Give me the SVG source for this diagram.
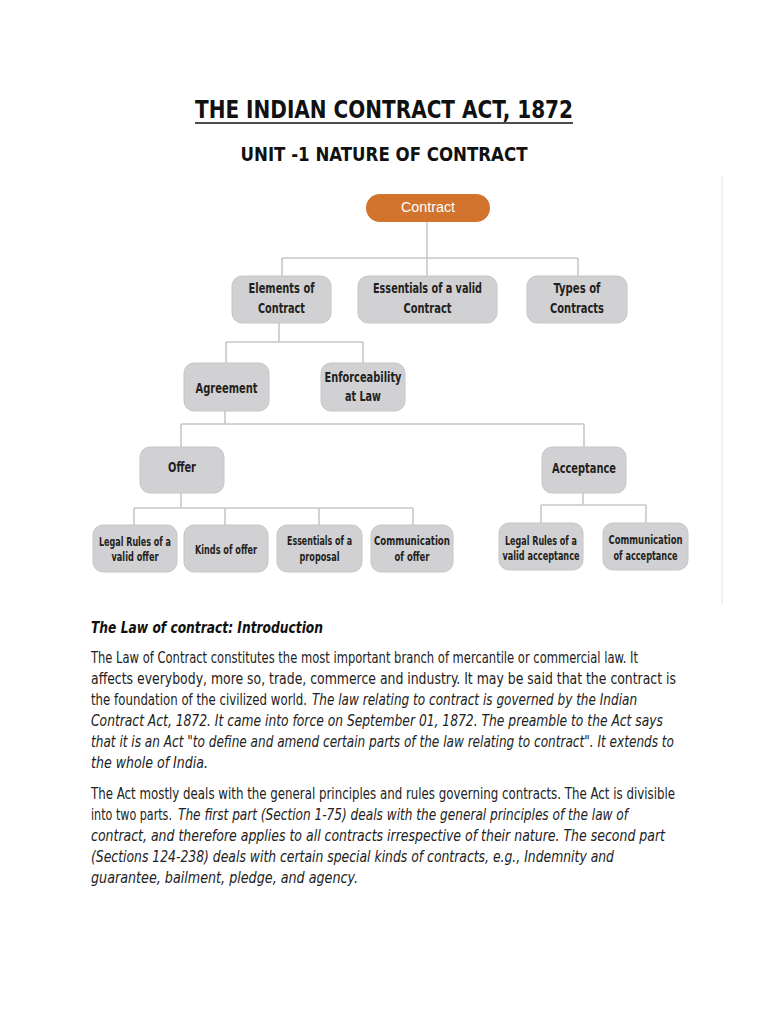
<svg xmlns="http://www.w3.org/2000/svg" width="768" height="1024" viewBox="0 0 768 1024">
<style>
.t{font-family:"Liberation Sans Narrow","DejaVu Sans Condensed","Liberation Sans",sans-serif;fill:#111;}
.b{font-weight:bold;}
.p{font-size:15px;fill:#222;}
.i{font-style:italic;}
.n rect{fill:#d1d1d3;stroke:#c6c6c8;stroke-width:1;}
.n text{font-family:"Liberation Sans Narrow","DejaVu Sans Condensed","Liberation Sans",sans-serif;font-weight:bold;font-size:13.5px;fill:#231f20;text-anchor:middle;}
.n text.s{font-size:12px;}
.c{stroke:#c8c8c8;stroke-width:1.6;fill:none;}
</style>
<rect width="768" height="1024" fill="#fff"/>
<text class="t b" x="384" y="118" font-size="24" text-anchor="middle" textLength="378" lengthAdjust="spacingAndGlyphs">THE  INDIAN  CONTRACT ACT, 1872</text>
<line x1="195" y1="123" x2="573" y2="123" stroke="#111" stroke-width="1.6"/>
<text class="t b" x="384" y="161" font-size="20" text-anchor="middle" textLength="287" lengthAdjust="spacingAndGlyphs">UNIT -1 NATURE OF CONTRACT</text>
<line x1="722" y1="176" x2="722" y2="605" stroke="#e8e8e8" stroke-width="1.2"/>
<g id="connectors" class="c">
<path d="M427 222V258M282 258H578M282 258V276M427 258V276M578 258V276"/>
<path d="M279 323V342M226 342H363M226 342V363M363 342V363"/>
<path d="M225 411V424M181 424H584M181 424V447M584 424V447"/>
<path d="M181 493V508M134 508H413M134 508V525M225 508V525M319 508V525M413 508V525"/>
<path d="M583 493V505M541 505H646M541 505V523M646 505V523"/>
</g>
<g id="contract"><rect x="366" y="194" width="124" height="28" rx="14" fill="#d2742e"/><text x="428" y="211.5" font-family="'Liberation Sans','DejaVu Sans',sans-serif" font-size="14" fill="#fff" text-anchor="middle" textLength="54" lengthAdjust="spacingAndGlyphs">Contract</text></g>
<g id="elements" class="n"><rect x="232" y="276" width="99" height="47" rx="10"/><text x="281.5" y="293" textLength="66" lengthAdjust="spacingAndGlyphs">Elements of</text><text x="281.5" y="313" textLength="47" lengthAdjust="spacingAndGlyphs">Contract</text></g>
<g id="essentials" class="n"><rect x="358" y="276" width="139" height="47" rx="10"/><text x="427.5" y="293" textLength="109" lengthAdjust="spacingAndGlyphs">Essentials of a valid</text><text x="427.5" y="313" textLength="48" lengthAdjust="spacingAndGlyphs">Contract</text></g>
<g id="types" class="n"><rect x="527" y="276" width="100" height="47" rx="10"/><text x="577" y="293" textLength="47" lengthAdjust="spacingAndGlyphs">Types of</text><text x="577" y="313" textLength="54" lengthAdjust="spacingAndGlyphs">Contracts</text></g>
<g id="agreement" class="n"><rect x="184" y="363" width="85" height="48" rx="10"/><text x="226.5" y="392.5" textLength="62" lengthAdjust="spacingAndGlyphs">Agreement</text></g>
<g id="enforceability" class="n"><rect x="321" y="363" width="84" height="48" rx="10"/><text x="363" y="381.5" textLength="77" lengthAdjust="spacingAndGlyphs">Enforceability</text><text x="363" y="400.5" textLength="36" lengthAdjust="spacingAndGlyphs">at Law</text></g>
<g id="offer" class="n"><rect x="140" y="447" width="84" height="46" rx="10"/><text x="182" y="471.5" textLength="28" lengthAdjust="spacingAndGlyphs">Offer</text></g>
<g id="acceptance" class="n"><rect x="542" y="447" width="84" height="46" rx="10"/><text x="584" y="472.5" textLength="64" lengthAdjust="spacingAndGlyphs">Acceptance</text></g>
<g id="legal-offer" class="n"><rect x="93" y="525" width="84" height="47" rx="10"/><text class="s" x="135" y="546" textLength="72" lengthAdjust="spacingAndGlyphs">Legal Rules of a</text><text class="s" x="135" y="561" textLength="47" lengthAdjust="spacingAndGlyphs">valid offer</text></g>
<g id="kinds-offer" class="n"><rect x="184" y="525" width="84" height="47" rx="10"/><text class="s" x="226" y="554" textLength="62" lengthAdjust="spacingAndGlyphs">Kinds of offer</text></g>
<g id="essentials-proposal" class="n"><rect x="277" y="525" width="85" height="47" rx="10"/><text class="s" x="319.5" y="545" textLength="65" lengthAdjust="spacingAndGlyphs">Essentials of a</text><text class="s" x="319.5" y="561" textLength="40" lengthAdjust="spacingAndGlyphs">proposal</text></g>
<g id="comm-offer" class="n"><rect x="371" y="525" width="82" height="47" rx="10"/><text class="s" x="412" y="545" textLength="76" lengthAdjust="spacingAndGlyphs">Communication</text><text class="s" x="412" y="561" textLength="35" lengthAdjust="spacingAndGlyphs">of offer</text></g>
<g id="legal-acceptance" class="n"><rect x="499" y="523" width="84" height="47" rx="10"/><text class="s" x="541" y="545" textLength="72" lengthAdjust="spacingAndGlyphs">Legal Rules of a</text><text class="s" x="541" y="559.5" textLength="77" lengthAdjust="spacingAndGlyphs">valid acceptance</text></g>
<g id="comm-acceptance" class="n"><rect x="603" y="523" width="85" height="47" rx="10"/><text class="s" x="645.5" y="543.5" textLength="74" lengthAdjust="spacingAndGlyphs">Communication</text><text class="s" x="645.5" y="559.5" textLength="64" lengthAdjust="spacingAndGlyphs">of acceptance</text></g>
<text class="t b i" x="91" y="632.5" font-size="15.5" textLength="232" lengthAdjust="spacingAndGlyphs">The Law of contract: Introduction</text>
<text class="t p" x="91" y="663" textLength="547" lengthAdjust="spacingAndGlyphs">The Law of Contract constitutes the most important branch of mercantile or  commercial law.  It</text>
<text class="t p" x="91" y="684" textLength="585" lengthAdjust="spacingAndGlyphs">affects  everybody, more so,  trade,  commerce  and  industry.  It  may  be  said  that  the  contract  is</text>
<text class="t p" transform="translate(91 705) scale(0.78 1)" x="0" y="0" textLength="276.9" lengthAdjust="spacingAndGlyphs">the foundation of the civilized world.</text>
<text class="t p i" transform="translate(312 705) scale(0.78 1)" x="0" y="0" textLength="416.7" lengthAdjust="spacingAndGlyphs">The law relating to contract is governed by the Indian</text>
<text class="t p i" x="91" y="726" textLength="572" lengthAdjust="spacingAndGlyphs">Contract Act, 1872. It came into force on September 01, 1872. The preamble to the Act says</text>
<text class="t p i" x="91" y="747" textLength="583" lengthAdjust="spacingAndGlyphs">that it is an Act "to define and amend certain parts of the law relating to contract". It extends to</text>
<text class="t p i" x="91" y="768" textLength="117" lengthAdjust="spacingAndGlyphs">the whole of India.</text>
<text class="t p" x="91" y="799" textLength="584" lengthAdjust="spacingAndGlyphs">The Act mostly  deals  with  the general  principles  and rules governing contracts. The  Act is divisible</text>
<text class="t p" transform="translate(91 820) scale(0.78 1)" x="0" y="0" textLength="103.8" lengthAdjust="spacingAndGlyphs">into two parts.</text>
<text class="t p i" transform="translate(178 820) scale(0.78 1)" x="0" y="0" textLength="577" lengthAdjust="spacingAndGlyphs">The first part (Section 1-75) deals with the general principles of the law of</text>
<text class="t p i" x="91" y="841" textLength="574" lengthAdjust="spacingAndGlyphs">contract, and therefore applies to all contracts irrespective of their nature. The second part</text>
<text class="t p i" x="91" y="862" textLength="523" lengthAdjust="spacingAndGlyphs">(Sections 124-238) deals with certain special kinds of contracts, e.g., Indemnity and</text>
<text class="t p i" x="91" y="883" textLength="267" lengthAdjust="spacingAndGlyphs">guarantee, bailment, pledge, and agency.</text>
</svg>
